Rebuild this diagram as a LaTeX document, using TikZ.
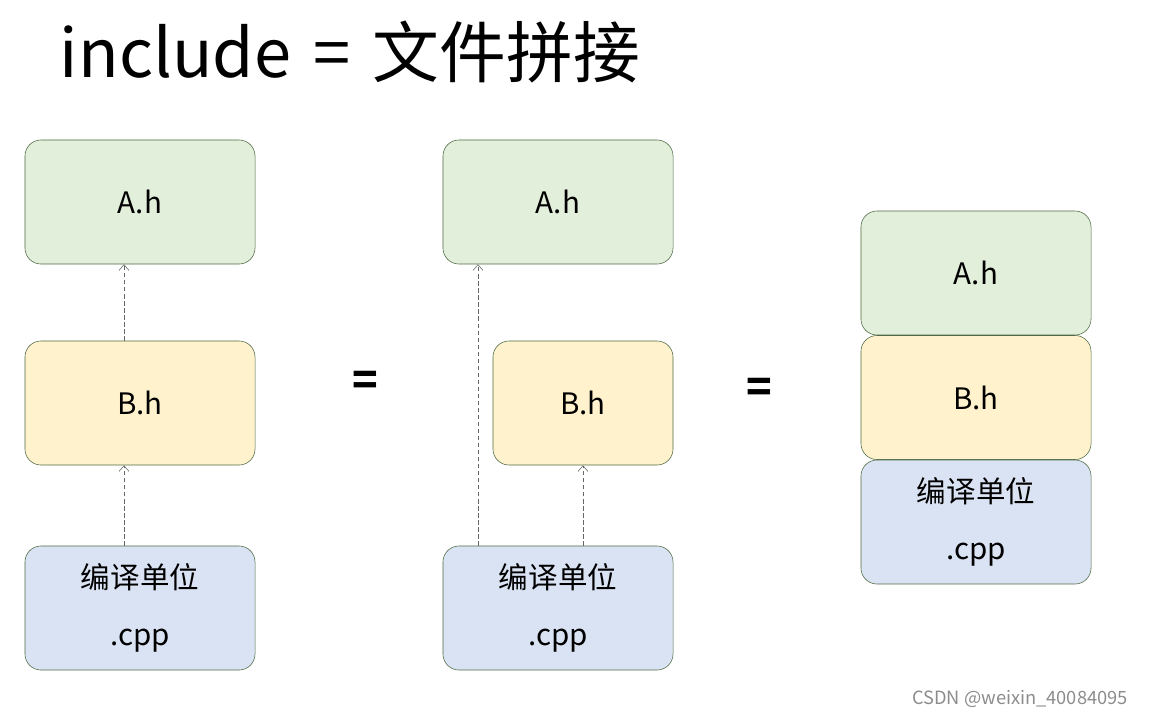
\documentclass[tikz,border=0pt]{standalone}
\usepackage{fontspec}
\setmainfont{Noto Sans CJK SC}
\usetikzlibrary{arrows.meta}
\definecolor{ahfill}{HTML}{E2EFDA}
\definecolor{bhfill}{HTML}{FFF2CC}
\definecolor{cufill}{HTML}{DAE3F3}
\definecolor{bxline}{HTML}{4F6B45}
\begin{document}
\begin{tikzpicture}[x=0.025cm, y=-0.025cm]
	\tikzset{bx/.style={draw=bxline, rounded corners=0.4cm, minimum width=5.75cm, minimum height=3.1cm, font=\fontsize{21}{25}\selectfont, align=center, inner sep=0pt},
		ah/.style={bx, fill=ahfill},
		bh/.style={bx, fill=bhfill},
		cu/.style={bx, fill=cufill},
		dep/.style={draw=black!60, densely dashed, thin, -{Straight Barb[length=4pt, width=7pt]}}}
	\useasboundingbox (0,0) rectangle (1158,718);
	\node[anchor=west, font=\fontsize{47.5}{50}\selectfont] (title) at (55,52) {include\,\,=\,\,文件拼接};

	\node[ah] (a0) at (140,202) {A.h};
	\node[bh] (b0) at (140,403) {B.h};
	\node[cu] (c0) at (140,608) {编译单位\\[16pt].cpp};

	\node[ah] (a1) at (558,202) {A.h};
	\node[bh, minimum width=4.5cm] (b1) at (583,403) {B.h};
	\node[cu] (c1) at (558,608) {编译单位\\[16pt].cpp};

	\node[ah] (a2) at (976,273) {A.h};
	\node[bh] (b2) at (976,397.5) {B.h};
	\node[cu] (c2) at (976,522) {编译单位\\[16pt].cpp};

	\node[font=\fontsize{30}{30}\selectfont\bfseries] (eq0) at (365,383) {=};
	\node[font=\fontsize{30}{30}\selectfont\bfseries] (eq1) at (759,390) {=};

	\draw[dep] ([xshift=-0.4cm]b0.north) to ([xshift=-0.4cm]a0.south);
	\draw[dep] ([xshift=-0.4cm]c0.north) to ([xshift=-0.4cm]b0.south);
	\draw[dep] ([xshift=-2cm]c1.north) to ([xshift=-2cm]a1.south);
	\draw[dep] (c1.north -| b1.north) to (b1.south);

	\node[text=black!45, font=\fontsize{13}{14}\selectfont] (mark) at (1020,699) {CSDN @weixin\_40084095};
\end{tikzpicture}
\end{document}
